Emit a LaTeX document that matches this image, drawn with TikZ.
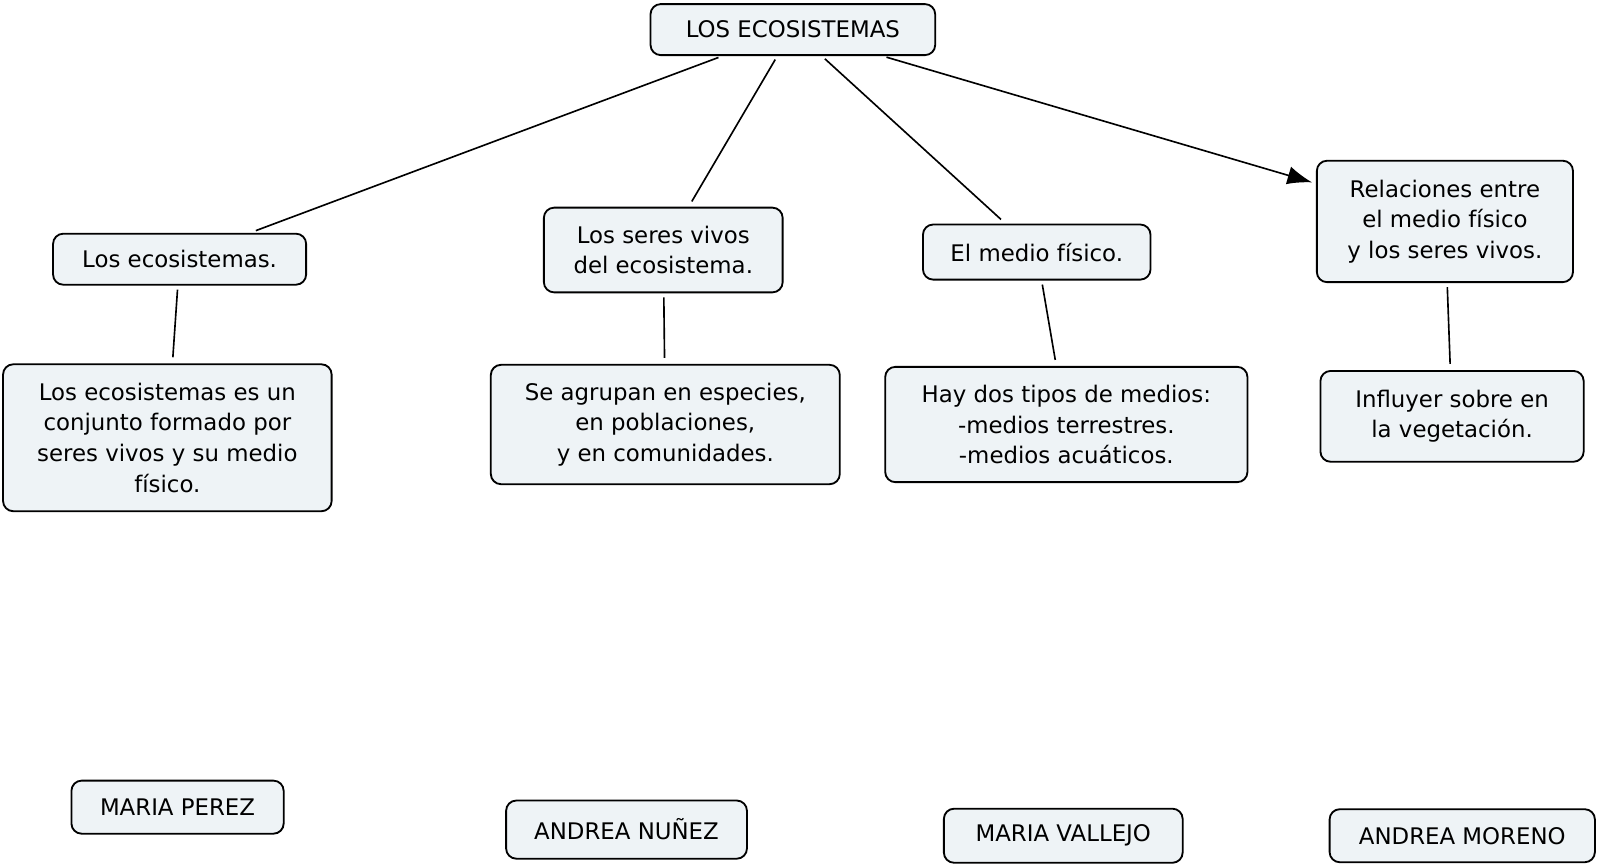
\documentclass[tikz,border=0pt]{standalone}
\usepackage{fontspec}
\setmainfont{DejaVu Sans}
\usetikzlibrary{arrows.meta}
\begin{document}
\begin{tikzpicture}[x=0.5pt,y=-0.5pt,
 box/.style={draw=black,line width=0.9pt,fill=boxfill,rounded corners=5pt,font=\fontsize{11.2}{15}\selectfont,align=center,inner sep=0pt},
 link/.style={line width=0.8pt,shorten <=2pt,shorten >=3pt}]
\definecolor{boxfill}{HTML}{EEF3F6}
\useasboundingbox (0,0) rectangle (1568,848);
\node[box,minimum width=139.5pt,minimum height=25pt] (top) at (777,29) {LOS ECOSISTEMAS};
\node[box,minimum width=124pt,minimum height=25pt] (a1) at (176,254) {Los ecosistemas.};
\node[box,minimum width=161pt,minimum height=72pt] (a2) at (164,429) {Los ecosistemas es un\\conjunto formado por\\seres vivos y su medio\\físico.};
\node[box,minimum width=117pt,minimum height=41.5pt] (b1) at (650,245) {Los seres vivos\\del ecosistema.};
\node[box,minimum width=171pt,minimum height=58.5pt] (b2) at (652,416) {Se agrupan en especies,\\en poblaciones,\\y en comunidades.};
\node[box,minimum width=111.5pt,minimum height=27pt] (c1) at (1016,247) {El medio físico.};
\node[box,minimum width=177.5pt,minimum height=56.5pt] (c2) at (1045,416) {Hay dos tipos de medios:\\-medios terrestres.\\-medios acuáticos.};
\node[box,minimum width=125.5pt,minimum height=59.5pt] (d1) at (1416,217) {Relaciones entre\\el medio físico\\y los seres vivos.};
\node[box,minimum width=129pt,minimum height=44.5pt] (d2) at (1423,408) {Influyer sobre en\\la vegetación.};
\node[box,minimum width=104pt,minimum height=26pt] (n1) at (174,791) {MARIA PEREZ};
\node[box,minimum width=118pt,minimum height=28.5pt] (n2) at (614,813) {ANDREA NUÑEZ};
\node[box,minimum width=117pt,minimum height=26.5pt] (n3) at (1042,819) {MARIA VALLEJO};
\node[box,minimum width=130pt,minimum height=26pt] (n4) at (1433,819) {ANDREA MORENO};
\draw[link] (top) -- (a1);
\draw[link] (top) -- (b1);
\draw[link] (top) -- (c1);
\draw[link,-{Latex[length=12pt,width=9pt]},shorten >=2pt] (top) -- (d1);
\draw[link] (a1) -- (a2);
\draw[link] (b1) -- (b2);
\draw[link] (c1) -- (c2);
\draw[link] (d1) -- (d2);
\end{tikzpicture}
\end{document}
